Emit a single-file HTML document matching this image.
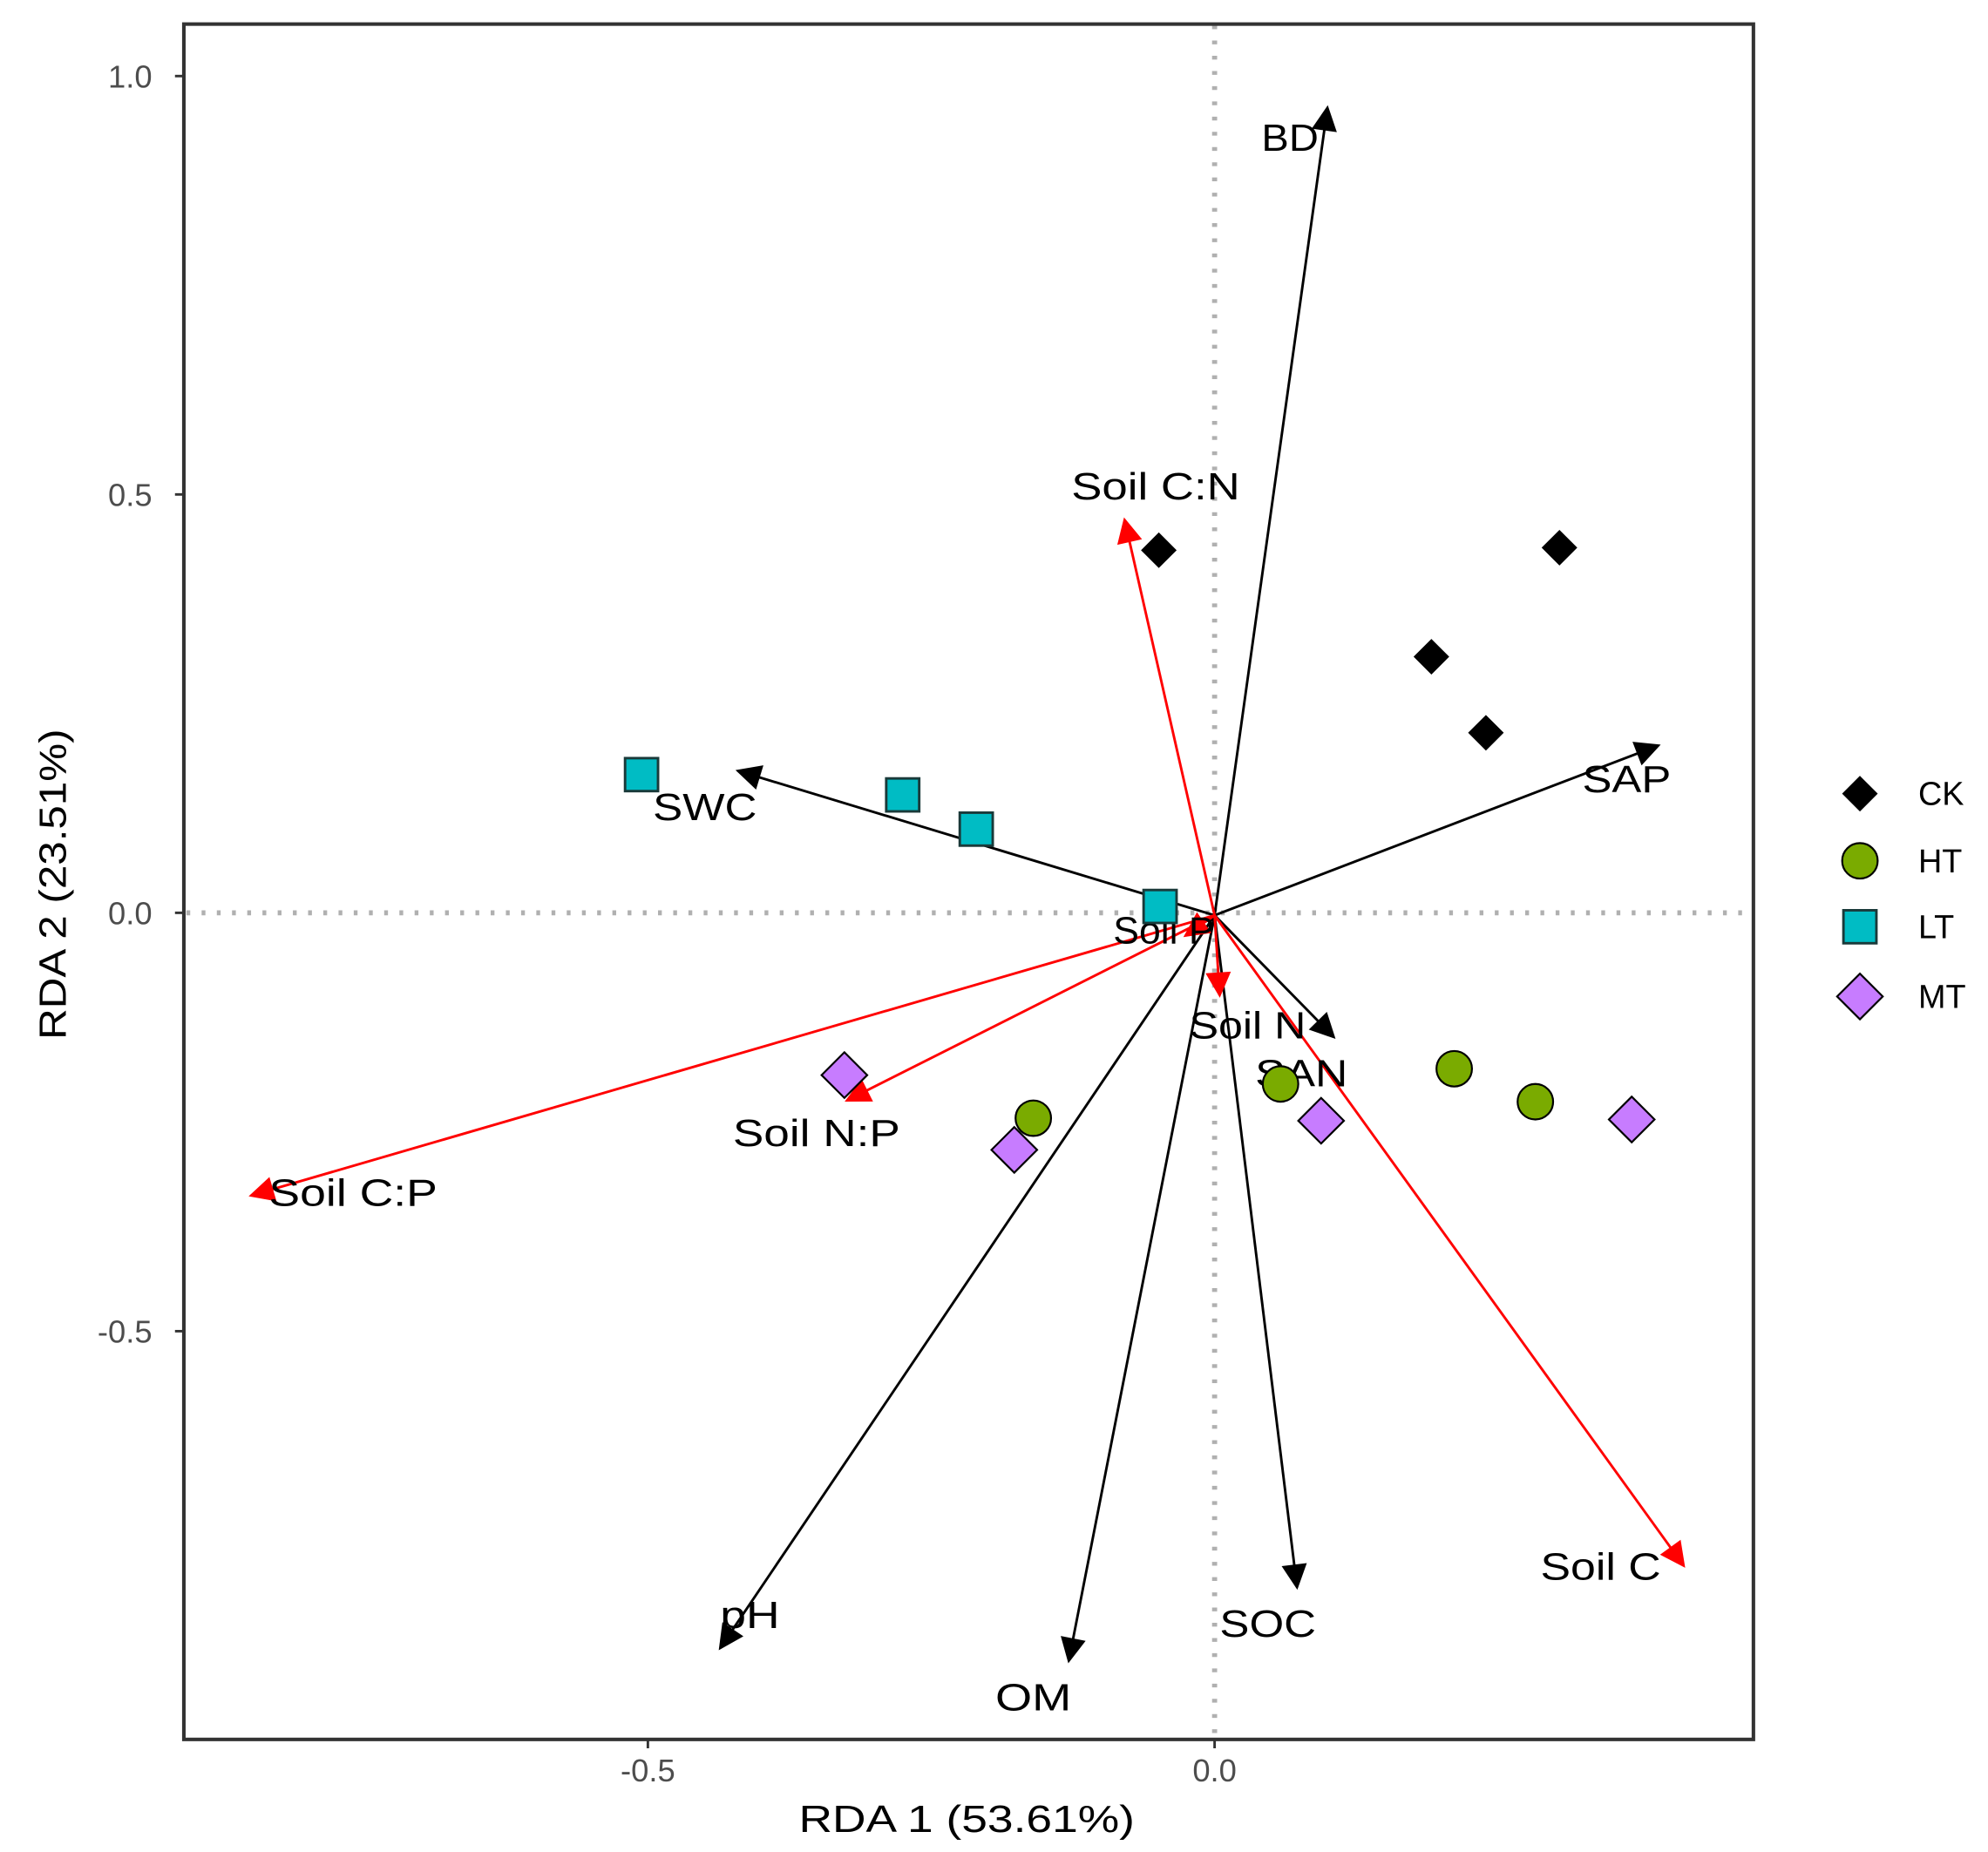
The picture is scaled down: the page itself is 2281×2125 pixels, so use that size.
<!DOCTYPE html>
<html><head><meta charset="utf-8"><style>html,body{margin:0;padding:0;background:#fff}svg{display:block}</style></head>
<body>
<svg width="2281" height="2125" viewBox="0 0 1568 1460.8" xmlns="http://www.w3.org/2000/svg" font-family="Liberation Sans, sans-serif">
<defs>
<marker id="ab" viewBox="0 0 10 10" refX="9" refY="5" markerWidth="24" markerHeight="20" markerUnits="userSpaceOnUse" orient="auto"><path d="M0,0 L10,5 L0,10 Z" fill="#000"/></marker>
<marker id="ar" viewBox="0 0 10 10" refX="9" refY="5" markerWidth="24" markerHeight="20" markerUnits="userSpaceOnUse" orient="auto"><path d="M0,0 L10,5 L0,10 Z" fill="#f00"/></marker>
</defs>
<rect x="0" y="0" width="1568" height="1461" fill="#fff"/>
<g stroke="#b0b0b0" stroke-width="4" stroke-dasharray="3,9">
<line x1="958" y1="20" x2="958" y2="1370"/>
<line x1="147" y1="720" x2="1381" y2="720"/>
</g>
<g stroke="#000" stroke-width="2" marker-end="url(#ab)">
<line x1="958" y1="722" x2="1047" y2="85"/>
<line x1="958" y1="722" x2="1308" y2="588"/>
<line x1="958" y1="722" x2="582" y2="608"/>
<line x1="958" y1="722" x2="568" y2="1300"/>
<line x1="958" y1="722" x2="843" y2="1310"/>
<line x1="958" y1="722" x2="1023" y2="1252"/>
<line x1="958" y1="722" x2="1052" y2="818"/>
</g>
<g stroke="#f00" stroke-width="2" marker-end="url(#ar)">
<line x1="958" y1="722" x2="887" y2="410"/>
<line x1="958" y1="722" x2="198" y2="943"/>
<line x1="958" y1="722" x2="668" y2="868"/>
<line x1="958" y1="722" x2="1328" y2="1235"/>
<line x1="958" y1="722" x2="962" y2="785"/>
<line x1="958" y1="722" x2="935" y2="738"/>
</g>
<g font-size="30" fill="#000" lengthAdjust="spacingAndGlyphs">
<text x="995" y="119" textLength="45" lengthAdjust="spacingAndGlyphs">BD</text>
<text x="1248" y="625" textLength="70" lengthAdjust="spacingAndGlyphs">SAP</text>
<text x="515" y="647" textLength="82" lengthAdjust="spacingAndGlyphs">SWC</text>
<text x="568" y="1284" textLength="47" lengthAdjust="spacingAndGlyphs">pH</text>
<text x="785" y="1349" textLength="60" lengthAdjust="spacingAndGlyphs">OM</text>
<text x="962" y="1291" textLength="76" lengthAdjust="spacingAndGlyphs">SOC</text>
<text x="990" y="857" textLength="73" lengthAdjust="spacingAndGlyphs">SAN</text>
<text x="845" y="394" textLength="133" lengthAdjust="spacingAndGlyphs">Soil C:N</text>
<text x="212" y="951" textLength="133" lengthAdjust="spacingAndGlyphs">Soil C:P</text>
<text x="578" y="904" textLength="132" lengthAdjust="spacingAndGlyphs">Soil N:P</text>
<text x="1215" y="1246" textLength="95" lengthAdjust="spacingAndGlyphs">Soil C</text>
<text x="938" y="819" textLength="92" lengthAdjust="spacingAndGlyphs">Soil N</text>
<text x="878" y="744" textLength="80" lengthAdjust="spacingAndGlyphs">Soil P</text>
</g>
<g stroke="#000" stroke-width="1.5">
<path d="M914,421 L927,434 L914,447 L901,434Z" fill="#000"/>
<path d="M1230,419 L1243,432 L1230,445 L1217,432Z" fill="#000"/>
<path d="M1129,505 L1142,518 L1129,531 L1116,518Z" fill="#000"/>
<path d="M1172,565 L1185,578 L1172,591 L1159,578Z" fill="#000"/>
<g fill="#7aab00"><circle cx="815" cy="882" r="14"/><circle cx="1010" cy="855" r="14"/><circle cx="1147" cy="843" r="14"/><circle cx="1211" cy="869" r="14"/></g>
<g fill="#00bcc4" stroke="#1a3a3a" stroke-width="2"><rect x="493" y="598" width="26" height="26"/><rect x="699" y="614" width="26" height="26"/><rect x="757" y="641" width="26" height="26"/><rect x="902" y="702" width="26" height="26"/></g>
<g fill="#c77cff"><path d="M666,830 L684,848 L666,866 L648,848Z"/><path d="M800,889 L818,907 L800,925 L782,907Z"/><path d="M1042,866 L1060,884 L1042,902 L1024,884Z"/><path d="M1287,865 L1305,883 L1287,901 L1269,883Z"/></g>
</g>
<rect x="145" y="19" width="1238" height="1353" fill="none" stroke="#333" stroke-width="2.8"/>
<g stroke="#333" stroke-width="2">
<line x1="138" y1="60" x2="145" y2="60"/><line x1="138" y1="390" x2="145" y2="390"/><line x1="138" y1="720" x2="145" y2="720"/><line x1="138" y1="1050" x2="145" y2="1050"/>
<line x1="511" y1="1372" x2="511" y2="1379"/><line x1="958" y1="1372" x2="958" y2="1379"/>
</g>
<g font-size="25" fill="#4d4d4d">
<g text-anchor="end"><text x="120" y="69">1.0</text><text x="120" y="399">0.5</text><text x="120" y="729">0.0</text><text x="120" y="1059">-0.5</text></g>
<g text-anchor="middle"><text x="511" y="1405">-0.5</text><text x="958" y="1405">0.0</text></g>
</g>
<text x="630" y="1445" font-size="30" textLength="265" lengthAdjust="spacingAndGlyphs" fill="#000">RDA 1 (53.61%)</text>
<text transform="translate(52,820) rotate(-90)" font-size="30" textLength="245" lengthAdjust="spacingAndGlyphs" fill="#000">RDA 2 (23.51%)</text>
<g stroke="#000" stroke-width="1.5">
<path d="M1467,613 L1480,626 L1467,639 L1454,626Z" fill="#000"/>
<circle cx="1467" cy="679" r="14" fill="#7aab00"/>
<rect x="1454" y="718" width="26" height="26" fill="#00bcc4" stroke="#1a3a3a" stroke-width="2"/>
<path d="M1467,768 L1485,786 L1467,804 L1449,786Z" fill="#c77cff"/>
</g>
<g font-size="26" fill="#000"><text x="1513" y="635">CK</text><text x="1513" y="688">HT</text><text x="1513" y="740">LT</text><text x="1513" y="795">MT</text></g>
</svg>
</body></html>
